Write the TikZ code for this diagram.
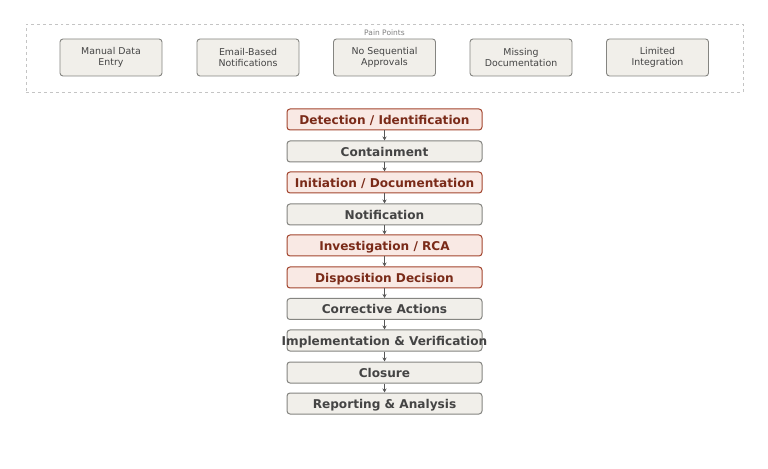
\documentclass[tikz,border=0pt]{standalone}
\usepackage{fontspec}
\setmainfont{DejaVu Sans}
\usetikzlibrary{arrows.meta}
\definecolor{grayfill}{HTML}{F1EFEA}
\definecolor{grayline}{HTML}{858581}
\definecolor{graytext}{HTML}{444444}
\definecolor{redfill}{HTML}{F9E9E4}
\definecolor{redline}{HTML}{A2452E}
\definecolor{redtext}{HTML}{7A2A18}
\definecolor{dashline}{HTML}{C4C4C4}
\tikzset{
  painbox/.style={draw=grayline, fill=grayfill, rounded corners=3bp, line width=0.9bp,
    minimum width=102bp, minimum height=37bp, inner sep=0pt, align=center,
    text=graytext, font=\fontsize{9.4bp}{11.5bp}\selectfont},
  flowbox/.style={draw=grayline, fill=grayfill, rounded corners=3bp, line width=1bp,
    minimum width=195bp, minimum height=21bp, inner sep=0pt, text depth=0pt,
    text=graytext, font=\fontsize{12.1bp}{13bp}\selectfont\bfseries},
  hotbox/.style={flowbox, draw=redline, fill=redfill, text=redtext},
  link/.style={draw=graytext!90, line width=0.7bp, -{Stealth[length=4bp,width=4bp]}},
}
\begin{document}
\begin{tikzpicture}[x=1bp,y=-1bp]
\useasboundingbox[fill=white] (0,0) rectangle (768,469);
\node[draw=dashline, dashed, line width=0.7bp, minimum width=717bp, minimum height=68bp, inner sep=0pt] (pp) at (384.5,58) {};
\node[text=gray, font=\fontsize{7.5bp}{9bp}\selectfont] (ppl) at (384.5,32.5) {Pain Points};
\node[painbox] (p1) at (111,57.5) {Manual Data\\Entry};
\node[painbox] (p2) at (248,57.5) {Email-Based\\Notifications};
\node[painbox] (p3) at (384.5,57.5) {No Sequential\\Approvals};
\node[painbox] (p4) at (521,57.5) {Missing\\Documentation};
\node[painbox] (p5) at (657.5,57.5) {Limited\\Integration};
\node[hotbox]  (f1)  at (384.5,119.5) {Detection / Identification};
\node[flowbox] (f2)  at (384.5,151.5) {Containment};
\node[hotbox]  (f3)  at (384.5,182.5) {Initiation / Documentation};
\node[flowbox] (f4)  at (384.5,214.5) {Notification};
\node[hotbox]  (f5)  at (384.5,245.5) {Investigation / RCA};
\node[hotbox]  (f6)  at (384.5,277.5) {Disposition Decision};
\node[flowbox] (f7)  at (384.5,309) {Corrective Actions};
\node[flowbox] (f8)  at (384.5,340.5) {\hbox to 0pt{\hss Implementation \& Verification\hss}};
\node[flowbox] (f9)  at (384.5,372.5) {Closure};
\node[flowbox] (f10) at (384.5,403.5) {Reporting \& Analysis};
\foreach \a/\b in {f1/f2,f2/f3,f3/f4,f4/f5,f5/f6,f6/f7,f7/f8,f8/f9,f9/f10}
  \draw[link] (\a) -- (\b);
\end{tikzpicture}
\end{document}
